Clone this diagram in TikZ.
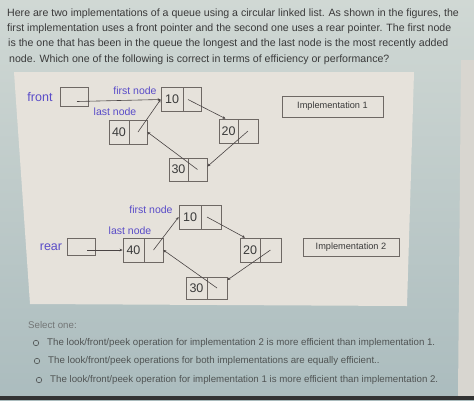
\documentclass[tikz,border=0pt]{standalone}
\usepackage{fontspec}
\setmainfont{Liberation Sans}
\usetikzlibrary{arrows.meta}
\definecolor{bgtop}{HTML}{D0D8D4}
\definecolor{bgbot}{HTML}{ABBCBE}
\definecolor{strip}{HTML}{D8D6D0}
\definecolor{panel}{HTML}{E6E2DB}
\definecolor{ink}{HTML}{3A3A3A}
\definecolor{optink}{HTML}{505454}
\definecolor{lbl}{HTML}{5A4CC8}
\definecolor{boxc}{HTML}{6E6864}
\definecolor{arr}{HTML}{4A4444}
\begin{document}
\begin{tikzpicture}[x=1pt,y=-1pt,
  cell/.style={draw=boxc, line width=0.7pt, inner sep=0pt, minimum height=24pt, font=\fontsize{12.5}{12.5}\selectfont, text=ink},
  ptrbox/.style={draw=boxc, line width=0.7pt, inner sep=0pt, minimum width=28pt},
  ptr/.style={draw=arr, line width=0.6pt, -{Stealth[length=3pt,width=2.6pt]}},
  lab/.style={text=lbl, inner sep=0pt, font=\fontsize{10.5}{10.5}\selectfont},
  big/.style={text=lbl, inner sep=0pt, font=\fontsize{12.5}{12.5}\selectfont},
  impl/.style={draw=boxc, line width=0.7pt, inner sep=0pt, text=ink, font=\fontsize{9.2}{9.2}\selectfont},
  para/.style={anchor=west, inner sep=0pt, text=ink, font=\fontsize{10.6}{10.6}\selectfont},
  opt/.style={anchor=west, inner sep=0pt, text=optink, font=\fontsize{9.7}{9.7}\selectfont},
  radio/.style={draw=optink, line width=0.6pt, circle, inner sep=0pt, minimum size=5.5pt}]
\useasboundingbox (0,0) rectangle (474,400);
% background
\shade[top color=bgtop, bottom color=bgbot] (0,0) rectangle (474,400);
\fill[strip] (461,60) -- (474,60) -- (474,396) -- (458,396) -- cycle;
\fill[black!80] (0,396) rectangle (474,400);
\fill[panel] (14,72) -- (414,72) -- (407,306) -- (30,304) -- cycle;
% question text
\node[para] (q1) at (7,14) {Here are two implementations of a queue using a circular linked list. As shown in the figures, the};
\node[para] (q2) at (7,29) {first implementation uses a front pointer and the second one uses a rear pointer. The first node};
\node[para] (q3) at (8,44) {is the one that has been in the queue the longest and the last node is the most recently added};
\node[para] (q4) at (9,60) {node. Which one of the following is correct in terms of efficiency or performance?};
% implementation 1
\node[big] (front) at (40,97) {front};
\node[ptrbox, minimum height=19pt] (fbox) at (74,96.5) {};
\node[lab] (fn1) at (135,91) {first node};
\node[lab] (ln1) at (115,112) {last node};
\node[cell, minimum width=22pt] (a10l) at (172,99.5) {10};
\node[cell, minimum width=18pt] (a10r) at (192,99.5) {};
\node[cell, minimum width=20pt] (a40l) at (119,132) {40};
\node[cell, minimum width=18pt] (a40r) at (138,132) {};
\node[cell, minimum width=19pt] (a20l) at (228.5,131) {20};
\node[cell, minimum width=20pt] (a20r) at (248,131) {};
\node[cell, minimum width=19pt, minimum height=23pt] (a30l) at (178.5,169.5) {30};
\node[cell, minimum width=19pt, minimum height=23pt] (a30r) at (197.5,169.5) {};
\node[impl, minimum width=101pt, minimum height=21pt] (imp1) at (332.5,106.5) {Implementation 1};
\draw[ptr] ([shift={(3pt,-5pt)}]fbox.center) -- (a10l.west);
\draw[ptr] (a40r.center) -- (a10l.west);
\draw[ptr] ([xshift=-4pt]a10r.center) -- ([xshift=-3pt]a20l.north);
\draw[ptr] (a20r.center) -- ([yshift=3pt]a30r.east);
\draw[ptr] (a30r.center) -- (a40r.east);
% implementation 2
\node[big] (rear) at (51,247) {rear};
\node[ptrbox, minimum height=17pt] (rbox) at (81,246.5) {};
\node[lab] (fn2) at (151,210) {first node};
\node[lab] (ln2) at (130,231) {last node};
\node[cell, minimum width=21pt] (b40l) at (133.5,250) {40};
\node[cell, minimum width=19pt] (b40r) at (153.5,250) {};
\node[cell, minimum width=22pt] (b10l) at (190,217) {10};
\node[cell, minimum width=20pt] (b10r) at (211,217) {};
\node[cell, minimum width=20pt] (b20l) at (250,250) {20};
\node[cell, minimum width=21pt] (b20r) at (270.5,250) {};
\node[cell, minimum width=21pt, minimum height=22pt] (b30l) at (196.5,288) {30};
\node[cell, minimum width=20pt, minimum height=22pt] (b30r) at (217,288) {};
\node[impl, minimum width=96pt, minimum height=18pt] (imp2) at (351,247) {Implementation 2};
\draw[ptr] ([shift={(6pt,-3.5pt)}]rbox.center) -- (b40l.west);
\draw[ptr] (b40r.center) -- (b10l.west);
\draw[ptr] ([xshift=-4pt]b10r.center) -- ([xshift=-5pt]b20l.north);
\draw[ptr] (b20r.center) -- ([yshift=8pt]b30r.east);
\draw[ptr] (b30r.center) -- (b40r.east);
% answers
\node[opt, text=optink!80] (sel) at (28,325) {Select one:};
\node[radio] (r1) at (36,343) {};
\node[opt] (o1) at (47,343) {The look/front/peek operation for implementation 2 is more efficient than implementation 1.};
\node[radio] (r2) at (37,361) {};
\node[opt] (o2) at (48,361) {The look/front/peek operations for both implementations are equally efficient..};
\node[radio] (r3) at (39,380) {};
\node[opt] (o3) at (50,380) {The look/front/peek operation for implementation 1 is more efficient than implementation 2.};
\end{tikzpicture}
\end{document}
